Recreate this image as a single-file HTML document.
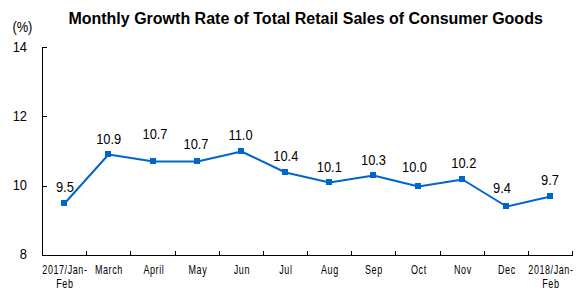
<!DOCTYPE html>
<html><head><meta charset="utf-8"><style>
html,body{margin:0;padding:0;background:#fff;width:584px;height:299px;overflow:hidden}
svg{display:block}
text{font-family:"Liberation Sans",sans-serif;fill:#000;text-anchor:middle}
.dl{font-size:14px}
.yl{font-size:14px;text-anchor:end}
.pc{font-size:14px}
.xl{font-size:12.5px;letter-spacing:0.8px}
.ti{font-size:16px;font-weight:bold}
</style></head><body>
<svg width="584" height="299" viewBox="0 0 584 299">
<path d="M572.5,251 V255.5 H42.5 V47.5 H47" fill="none" stroke="#000" stroke-width="1" shape-rendering="crispEdges"/>
<path d="M42,116.5 H47" stroke="#000" stroke-width="1" shape-rendering="crispEdges"/>
<path d="M42,186.5 H47" stroke="#000" stroke-width="1" shape-rendering="crispEdges"/>
<path d="M86.5,251 V255" stroke="#000" stroke-width="1" shape-rendering="crispEdges"/>
<path d="M130.5,251 V255" stroke="#000" stroke-width="1" shape-rendering="crispEdges"/>
<path d="M175.5,251 V255" stroke="#000" stroke-width="1" shape-rendering="crispEdges"/>
<path d="M219.5,251 V255" stroke="#000" stroke-width="1" shape-rendering="crispEdges"/>
<path d="M263.5,251 V255" stroke="#000" stroke-width="1" shape-rendering="crispEdges"/>
<path d="M307.5,251 V255" stroke="#000" stroke-width="1" shape-rendering="crispEdges"/>
<path d="M351.5,251 V255" stroke="#000" stroke-width="1" shape-rendering="crispEdges"/>
<path d="M395.5,251 V255" stroke="#000" stroke-width="1" shape-rendering="crispEdges"/>
<path d="M440.5,251 V255" stroke="#000" stroke-width="1" shape-rendering="crispEdges"/>
<path d="M484.5,251 V255" stroke="#000" stroke-width="1" shape-rendering="crispEdges"/>
<path d="M528.5,251 V255" stroke="#000" stroke-width="1" shape-rendering="crispEdges"/>
<polyline points="64.5,203.5 108.5,154.5 153.5,161.5 197.5,161.5 241.5,151.5 285.5,172.5 329.5,182.5 373.5,175.5 418.5,186.5 462.5,179.5 506.5,206.5 550.5,196.5" fill="none" stroke="#0066CC" stroke-width="2" stroke-linejoin="round"/>
<rect x="61" y="200" width="6" height="6" fill="#0066CC"/>
<rect x="105" y="151" width="6" height="6" fill="#0066CC"/>
<rect x="150" y="158" width="6" height="6" fill="#0066CC"/>
<rect x="194" y="158" width="6" height="6" fill="#0066CC"/>
<rect x="238" y="148" width="6" height="6" fill="#0066CC"/>
<rect x="282" y="169" width="6" height="6" fill="#0066CC"/>
<rect x="326" y="179" width="6" height="6" fill="#0066CC"/>
<rect x="370" y="172" width="6" height="6" fill="#0066CC"/>
<rect x="415" y="183" width="6" height="6" fill="#0066CC"/>
<rect x="459" y="176" width="6" height="6" fill="#0066CC"/>
<rect x="503" y="203" width="6" height="6" fill="#0066CC"/>
<rect x="547" y="193" width="6" height="6" fill="#0066CC"/>
<text transform="translate(64.9,192) scale(0.92,1)" class="dl">9.5</text>
<text transform="translate(108.7,144) scale(0.92,1)" class="dl">10.9</text>
<text transform="translate(155,139) scale(0.92,1)" class="dl">10.7</text>
<text transform="translate(196,149) scale(0.92,1)" class="dl">10.7</text>
<text transform="translate(240.5,140) scale(0.92,1)" class="dl">11.0</text>
<text transform="translate(285.8,161) scale(0.92,1)" class="dl">10.4</text>
<text transform="translate(329.3,172) scale(0.92,1)" class="dl">10.1</text>
<text transform="translate(373.5,165) scale(0.92,1)" class="dl">10.3</text>
<text transform="translate(414.5,172) scale(0.92,1)" class="dl">10.0</text>
<text transform="translate(463.8,168) scale(0.92,1)" class="dl">10.2</text>
<text transform="translate(502,193) scale(0.92,1)" class="dl">9.4</text>
<text transform="translate(550,185) scale(0.92,1)" class="dl">9.7</text>
<text transform="translate(27,52) scale(0.92,1)" class="yl">14</text>
<text transform="translate(27,121) scale(0.92,1)" class="yl">12</text>
<text transform="translate(27,190) scale(0.92,1)" class="yl">10</text>
<text transform="translate(27,259) scale(0.92,1)" class="yl">8</text>
<text transform="translate(22.4,31.6) scale(0.92,1)" class="pc">(%)</text>
<text transform="translate(64.9,274) scale(0.72,1.04)" class="xl">2017/Jan-</text>
<text transform="translate(64.9,288) scale(0.72,1.04)" class="xl">Feb</text>
<text transform="translate(108.9,274) scale(0.72,1.04)" class="xl">March</text>
<text transform="translate(153.9,274) scale(0.72,1.04)" class="xl">April</text>
<text transform="translate(197.9,274) scale(0.72,1.04)" class="xl">May</text>
<text transform="translate(241.9,274) scale(0.72,1.04)" class="xl">Jun</text>
<text transform="translate(285.9,274) scale(0.72,1.04)" class="xl">Jul</text>
<text transform="translate(329.9,274) scale(0.72,1.04)" class="xl">Aug</text>
<text transform="translate(373.9,274) scale(0.72,1.04)" class="xl">Sep</text>
<text transform="translate(418.9,274) scale(0.72,1.04)" class="xl">Oct</text>
<text transform="translate(462.9,274) scale(0.72,1.04)" class="xl">Nov</text>
<text transform="translate(506.9,274) scale(0.72,1.04)" class="xl">Dec</text>
<text transform="translate(550.9,274) scale(0.72,1.04)" class="xl">2018/Jan-</text>
<text transform="translate(550.9,288) scale(0.72,1.04)" class="xl">Feb</text>
<text x="305.6" y="24" class="ti">Monthly Growth Rate of Total Retail Sales of Consumer Goods</text>
</svg>
</body></html>
